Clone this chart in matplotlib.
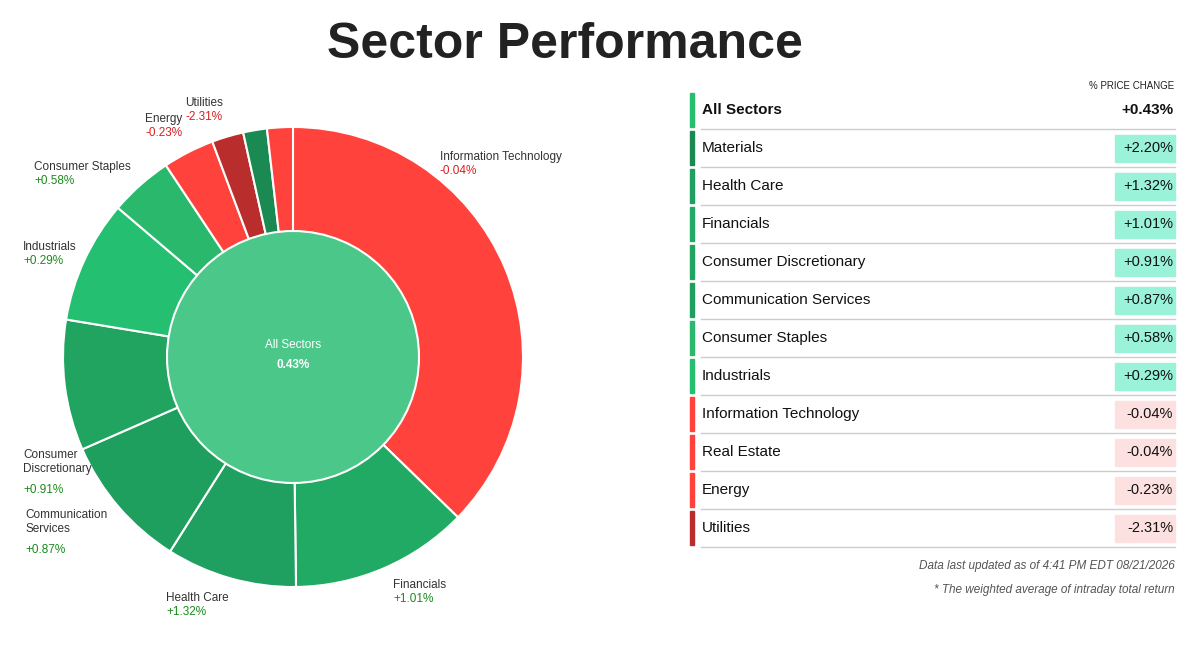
import matplotlib.pyplot as plt
from matplotlib.patches import Rectangle, Circle

W, H = 1201, 651

# donut slices, clockwise from top (weights in degrees of arc)
pie_sectors = ["Information Technology", "Financials", "Health Care", "Communication Services",
               "Consumer Discretionary", "Industrials", "Consumer Staples", "Energy",
               "Utilities", "Materials", "Real Estate"]
pie_weights = [134, 45, 33, 34, 33, 31, 16, 13, 8, 6, 6.5]
pie_colors = ["#ff423b", "#21aa63", "#1fa060", "#1f9f5d", "#20a45f", "#24bf70", "#2ab96c",
              "#ff423b", "#b92d2d", "#1b8a52", "#ff423b"]

# table
tab_sectors = ["Materials", "Health Care", "Financials", "Consumer Discretionary",
               "Communication Services", "Consumer Staples", "Industrials",
               "Information Technology", "Real Estate", "Energy", "Utilities"]
tab_changes = [2.20, 1.32, 1.01, 0.91, 0.87, 0.58, 0.29, -0.04, -0.04, -0.23, -2.31]
tab_bars = ["#1b8a52", "#1fa060", "#21aa63", "#20a45f", "#1f9f5d", "#2ab96c", "#24bf70",
            "#ff423b", "#ff423b", "#ff423b", "#b92d2d"]
all_change = 0.43

# outer labels: (text, change, x px, y px)
labels = [("Information Technology", "-0.04%", 440, 157),
          ("Financials", "+1.01%", 393, 585),
          ("Health Care", "+1.32%", 166, 598),
          ("Communication\nServices", "+0.87%", 25, 522),
          ("Consumer\nDiscretionary", "+0.91%", 23, 462),
          ("Industrials", "+0.29%", 23, 247),
          ("Consumer Staples", "+0.58%", 34, 167),
          ("Energy", "-0.23%", 145, 119),
          ("Utilities", "-2.31%", 185, 103)]

fig = plt.figure(figsize=(W / 100, H / 100), dpi=100)
plt.rcParams['font.family'] = ['Liberation Sans', 'DejaVu Sans']


def fx(x):
    return x / W


def fy(y):
    return 1 - y / H


fig.text(fx(565), fy(45), "Sector Performance", ha="center", va="center",
         fontsize=36, fontweight="bold", color="#222222")

# donut
cx, cy, R = 293, 357, 230
ax = fig.add_axes([fx(cx - 250), fy(cy + 250), 500 / W, 500 / H])
ax.set_xlim(-250, 250)
ax.set_ylim(-250, 250)
ax.set_aspect("equal")
ax.axis("off")
ax.pie(pie_weights, colors=pie_colors, radius=R, startangle=90, counterclock=False,
       wedgeprops=dict(edgecolor="white", linewidth=1.5))
ax.set_xlim(-250, 250)
ax.set_ylim(-250, 250)
ax.add_patch(Circle((0, 0), 126, facecolor="#4cc78a", edgecolor="white", linewidth=1.5, zorder=5))
ax.text(0, 12, "All Sectors", ha="center", va="center", color="white", fontsize=8.5, zorder=6)
ax.text(0, -8, f"{all_change:.2f}%", ha="center", va="center", color="white", fontsize=8.5,
        fontweight="bold", zorder=6)

for name, chg, x, y in labels:
    col = "#d92020" if chg.startswith("-") else "#1a8a1a"
    nlines = name.count("\n") + 1
    fig.text(fx(x), fy(y), name, ha="left", va="center", fontsize=8.5, color="#333333",
             linespacing=1.15)
    fig.text(fx(x), fy(y + 14 * nlines), chg, ha="left", va="center", fontsize=8.5, color=col)

# table
tax = fig.add_axes([0, 0, 1, 1])
tax.set_xlim(0, W)
tax.set_ylim(H, 0)
tax.axis("off")
tax.text(1174, 86, "% PRICE CHANGE", ha="right", va="center", fontsize=7, color="#222222")
row_h = 38
y0 = 110
tax.add_patch(Rectangle((690, y0 - 17), 4, 34, color="#24bf70"))
tax.text(702, y0, "All Sectors", ha="left", va="center", fontsize=11, fontweight="bold", color="#111111")
tax.text(1174, y0, f"+{all_change:.2f}%", ha="right", va="center", fontsize=11, fontweight="bold",
         color="#111111")
tax.plot([701, 1175], [y0 + 19, y0 + 19], color="#cccccc", lw=1)
for i, (s, c, bc) in enumerate(zip(tab_sectors, tab_changes, tab_bars)):
    y = y0 + row_h * (i + 1)
    tax.add_patch(Rectangle((690, y - 17), 4, 34, color=bc))
    tax.text(702, y, s, ha="left", va="center", fontsize=11, color="#111111")
    tax.add_patch(Rectangle((1115, y - 13), 60, 27, color="#9af2d8" if c > 0 else "#fde0e0"))
    tax.text(1173, y, f"{c:+.2f}%", ha="right", va="center", fontsize=10.5, color="#111111")
    tax.plot([701, 1175], [y + 19, y + 19], color="#cccccc", lw=1)

tax.text(1175, 566, "Data last updated as of 4:41 PM EDT 08/21/2026", ha="right", va="center",
         fontsize=8.5, style="italic", color="#555555")
tax.text(1175, 590, "* The weighted average of intraday total return", ha="right", va="center",
         fontsize=8.5, style="italic", color="#555555")

fig.savefig("out.png", dpi=100)
